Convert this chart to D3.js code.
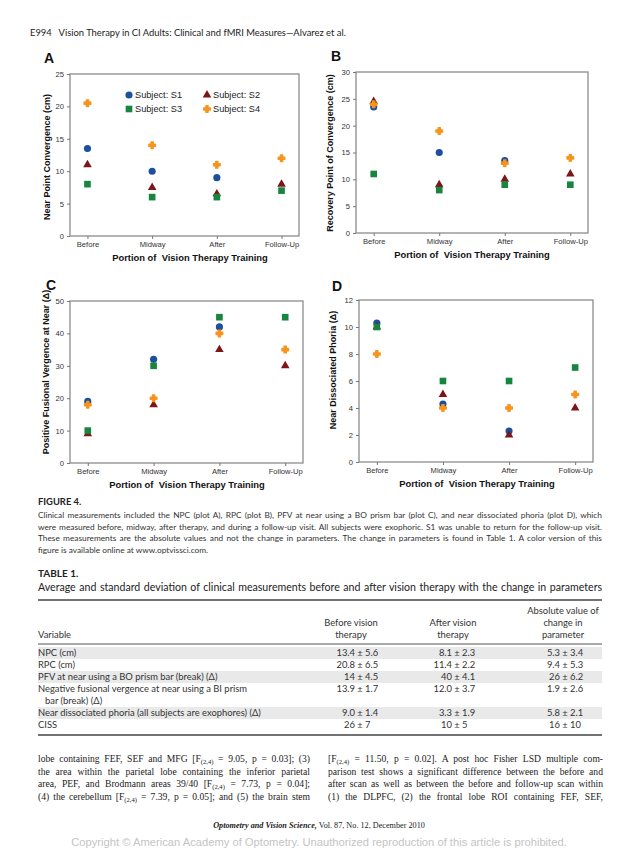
<!DOCTYPE html>
<html>
<head>
<meta charset="utf-8">
<title>Figure 4 / Table 1</title>
<script src="https://cdn.jsdelivr.net/npm/d3@7"></script>
<style>
  body {margin:0; background:#fff;}
</style>
</head>
<body>
<script>
// ---- chart data ----
var periods = ["Before", "Midway", "After", "Follow-Up"];
var subjects = ["Subject: S1", "Subject: S2", "Subject: S3", "Subject: S4"];

// null = S1 did not come back for follow-up
var npcS1 = [13.5, 10, 9, null];
var npcS2 = [11, 7.5, 6.5, 8];
var npcS3 = [8, 6, 6, 7];
var npcS4 = [20.5, 14, 11, 12];

var rpcS1 = [23.5, 15, 13.5, null];
var rpcS2 = [24.5, 9, 10, 11];
var rpcS3 = [11, 8, 9, 9];
var rpcS4 = [24, 19, 13, 14];

var pfvS1 = [19, 32, 42, null];
var pfvS2 = [9, 18, 35, 30];
var pfvS3 = [10, 30, 45, 45];
var pfvS4 = [18, 20, 40, 35];

var phoriaS1 = [10.3, 4.3, 2.3, null];
var phoriaS2 = [10, 5, 2, 4];
var phoriaS3 = [10, 6, 6, 7];
var phoriaS4 = [8, 4, 4, 5];

var npcTicks = [0, 5, 10, 15, 20, 25];
var rpcTicks = [0, 5, 10, 15, 20, 25, 30];
var pfvTicks = [0, 10, 20, 30, 40, 50];
var phoriaTicks = [0, 2, 4, 6, 8, 10, 12];

// ---- table data ----
var tableVars = ["NPC (cm)", "RPC (cm)", "PFV at near using a BO prism bar (break) (\u0394)",
  "Negative fusional vergence at near using a BI prism|bar (break) (\u0394)",
  "Near dissociated phoria (all subjects are exophores) (\u0394)", "CISS"];
var tableBefore = ["13.4 \u00b1 5.6", "20.8 \u00b1 6.5", "14 \u00b1 4.5", "13.9 \u00b1 1.7", "9.0 \u00b1 1.4", "26 \u00b1 7"];
var tableAfter = ["8.1 \u00b1 2.3", "11.4 \u00b1 2.2", "40 \u00b1 4.1", "12.0 \u00b1 3.7", "3.3 \u00b1 1.9", "10 \u00b1 5"];
var tableChange = ["5.3 \u00b1 3.4", "9.4 \u00b1 5.3", "26 \u00b1 6.2", "1.9 \u00b1 2.6", "5.8 \u00b1 2.1", "16 \u00b1 10"];

var W = 638, H = 854;
var sans = "Lato, 'Open Sans', sans-serif";
var serif = "'Liberation Serif', 'DejaVu Serif', serif";
var arial = "'Liberation Sans', Arial, sans-serif";

var svg = d3.select("body").append("svg")
  .attr("width", W).attr("height", H)
  .style("font-family", arial);

var symbols = [d3.symbolCircle, d3.symbolTriangle, d3.symbolSquare, d3.symbolCross];
var colors = ["#1c4f9c", "#7e1518", "#17853f", "#f7941d"];
var sizes = [40, 32, 44, 24];

// stretch word gaps so a line fills the column
function justify(t, width) {
  var n = t.node();
  var nat = n.getComputedTextLength();
  var gaps = (n.textContent.match(/ /g) || []).length;
  if (gaps) t.attr("word-spacing", ((width - nat) / gaps).toFixed(2));
}

// running header
svg.append("text").attr("x", 30).attr("y", 36)
  .style("font-family", sans).style("font-size", "9.4px").attr("fill", "#222")
  .attr("xml:space", "preserve")
  .text("E994   Vision Therapy in CI Adults: Clinical and fMRI Measures\u2014Alvarez et al.");

var panels = [
  {letter: "A", lx: 44, ly: 63, x0: 70, x1: 299, y0: 74, y1: 236, max: 25, ticks: npcTicks,
   title: "Near Point Convergence (cm)", tx: 50, ty: 157, xt: 190,
   series: [npcS1, npcS2, npcS3, npcS4], legend: true},
  {letter: "B", lx: 331, ly: 61, x0: 356, x1: 588, y0: 72, y1: 233, max: 30, ticks: rpcTicks,
   title: "Recovery Point of Convergence (cm)", tx: 333, ty: 153, xt: 472,
   series: [rpcS1, rpcS2, rpcS3, rpcS4]},
  {letter: "C", lx: 46, ly: 290, x0: 70, x1: 303, y0: 301, y1: 463, max: 50, ticks: pfvTicks,
   title: "Positive Fusional Vergence at Near (\u0394)", tx: 49, ty: 372, xt: 187,
   series: [pfvS1, pfvS2, pfvS3, pfvS4]},
  {letter: "D", lx: 332, ly: 291, x0: 359, x1: 593, y0: 300, y1: 462, max: 12, ticks: phoriaTicks,
   title: "Near Dissociated Phoria (\u0394)", tx: 336, ty: 370, xt: 477,
   series: [phoriaS1, phoriaS2, phoriaS3, phoriaS4]}
];

panels.forEach(function (p) {
  var g = svg.append("g");
  var x = d3.scalePoint().domain(periods).range([p.x0, p.x1]).padding(0.27);
  var y = d3.scaleLinear().domain([0, p.max]).range([p.y1, p.y0]);

  g.append("rect")
    .attr("x", p.x0).attr("y", p.y0)
    .attr("width", p.x1 - p.x0).attr("height", p.y1 - p.y0)
    .attr("fill", "none").attr("stroke", "#8c8c8c").attr("stroke-width", 1.3);

  var ya = g.append("g").attr("transform", "translate(" + p.x0 + ",0)")
    .call(d3.axisLeft(y).tickValues(p.ticks).tickSize(3).tickPadding(3));
  var xa = g.append("g").attr("transform", "translate(0," + p.y1 + ")")
    .call(d3.axisBottom(x).tickSize(3).tickPadding(3));
  [ya, xa].forEach(function (a) {
    a.select(".domain").remove();
    a.selectAll("line").attr("stroke", "#777");
    a.selectAll("text").attr("fill", "#333").style("font-family", arial).style("font-size", "7.6px");
  });

  // axis titles
  g.append("text")
    .attr("transform", "translate(" + p.tx + "," + p.ty + ") rotate(-90)")
    .attr("text-anchor", "middle")
    .style("font-weight", "bold").style("font-size", "9px").attr("fill", "#111")
    .text(p.title);
  g.append("text")
    .attr("x", p.xt).attr("y", p.y1 + 25)
    .attr("text-anchor", "middle").attr("xml:space", "preserve")
    .style("font-weight", "bold").style("font-size", "9.4px").attr("fill", "#111")
    .text("Portion of  Vision Therapy Training");
  g.append("text")
    .attr("x", p.lx).attr("y", p.ly)
    .style("font-weight", "bold").style("font-size", "14px").attr("fill", "#111")
    .text(p.letter);

  // markers
  p.series.forEach(function (vals, i) {
    var pts = vals.map(function (v, j) { return {cat: periods[j], v: v}; })
      .filter(function (d) { return d.v !== null; });
    g.selectAll(".s" + i).data(pts).enter().append("path")
      .attr("class", "s" + i)
      .attr("d", d3.symbol().type(symbols[i]).size(sizes[i]))
      .attr("transform", function (d) { return "translate(" + x(d.cat) + "," + y(d.v) + ")"; })
      .attr("fill", colors[i])
      .attr("stroke", i === 3 ? colors[i] : "none")
      .attr("stroke-width", 1.4).attr("stroke-linejoin", "round");
  });

  if (p.legend) {
    var lg = g.append("g");
    var cols = [129, 207], rows = [95, 109];
    subjects.forEach(function (s, i) {
      var lx = cols[i % 2], ly = rows[Math.floor(i / 2)];
      lg.append("path")
        .attr("d", d3.symbol().type(symbols[i]).size(sizes[i]))
        .attr("transform", "translate(" + lx + "," + ly + ")")
        .attr("fill", colors[i])
        .attr("stroke", i === 3 ? colors[i] : "none")
        .attr("stroke-width", 1.4).attr("stroke-linejoin", "round");
      lg.append("text").attr("x", lx + 6).attr("y", ly + 3.3)
        .style("font-size", "9.2px").attr("fill", "#222").text(s);
    });
  }
});

// ---- figure caption ----
svg.append("text").attr("x", 38).attr("y", 505)
  .style("font-family", sans).style("font-weight", "bold").style("font-size", "9.4px").attr("fill", "#222")
  .text("FIGURE 4.");

var captionLines = [
  "Clinical measurements included the NPC (plot A), RPC (plot B), PFV at near using a BO prism bar (plot C), and near dissociated phoria (plot D), which",
  "were measured before, midway, after therapy, and during a follow-up visit. All subjects were exophoric. S1 was unable to return for the follow-up visit.",
  "These measurements are the absolute values and not the change in parameters. The change in parameters is found in Table 1. A color version of this",
  "figure is available online at www.optvissci.com."
];
captionLines.forEach(function (t, i) {
  var tx = svg.append("text").attr("x", 38).attr("y", 518 + i * 11.6)
    .style("font-family", sans).style("font-size", "8.3px").attr("fill", "#333").text(t);
  if (i < captionLines.length - 1) justify(tx, 564);
});

// ---- table ----
svg.append("text").attr("x", 38).attr("y", 577)
  .style("font-family", sans).style("font-weight", "bold").style("font-size", "10px").attr("fill", "#222")
  .text("TABLE 1.");
var ttl = svg.append("text").attr("x", 38).attr("y", 591)
  .style("font-family", sans).style("font-size", "10.6px").attr("fill", "#222")
  .text("Average and standard deviation of clinical measurements before and after vision therapy with the change in parameters");
justify(ttl, 564);

var tl = 38, tr = 602;
var colCenters = [351, 453, 563];
var pmX = [360, 457, 565];

var rowLines = tableVars.map(function (v) { return v.split("|"); });
var rowTop = [];
var yCur = 656;
rowLines.forEach(function (l) { rowTop.push(yCur); yCur += 12 * l.length; });

// shaded rows
rowLines.forEach(function (l, i) {
  if (i % 2 === 0) {
    svg.append("rect").attr("x", tl).attr("y", rowTop[i] - 9)
      .attr("width", tr - tl).attr("height", 12 * l.length)
      .attr("fill", "#e9e9e9");
  }
});

svg.append("line").attr("x1", tl).attr("x2", tr).attr("y1", 600).attr("y2", 600)
  .attr("stroke", "#444").attr("stroke-width", 1.6);
svg.append("line").attr("x1", tl).attr("x2", tr).attr("y1", 644).attr("y2", 644)
  .attr("stroke", "#555").attr("stroke-width", 1.1);
svg.append("line").attr("x1", tl).attr("x2", tr).attr("y1", 735).attr("y2", 735)
  .attr("stroke", "#444").attr("stroke-width", 1.6);

function tableText(x, y, t, anchor) {
  return svg.append("text").attr("x", x).attr("y", y)
    .attr("text-anchor", anchor || "start")
    .style("font-family", sans).style("font-size", "9.4px")
    .attr("fill", "#333").text(t);
}
tableText(tl, 638, "Variable");
tableText(colCenters[0], 626, "Before vision", "middle");
tableText(colCenters[0], 638, "therapy", "middle");
tableText(colCenters[1], 626, "After vision", "middle");
tableText(colCenters[1], 638, "therapy", "middle");
tableText(colCenters[2], 614, "Absolute value of", "middle");
tableText(colCenters[2], 626, "change in", "middle");
tableText(colCenters[2], 638, "parameter", "middle");

var valueCols = [tableBefore, tableAfter, tableChange];
rowLines.forEach(function (l, i) {
  l.forEach(function (t, k) { tableText(tl + (k ? 7 : 0), rowTop[i] + 12 * k, t); });
  valueCols.forEach(function (col, c) {
    var parts = col[i].split(" \u00b1 ");
    tableText(pmX[c] - 5, rowTop[i], parts[0], "end");
    tableText(pmX[c], rowTop[i], "\u00b1", "middle");
    tableText(pmX[c] + 5, rowTop[i], parts[1], "start");
  });
});

// ---- body text (two columns) ----
var leftCol = [
  "lobe containing FEF, SEF and MFG [F~(2,4)~ = 9.05, p = 0.03]; (3)",
  "the area within the parietal lobe containing the inferior parietal",
  "area, PEF, and Brodmann areas 39/40 [F~(2,4)~ = 7.73, p = 0.04];",
  "(4) the cerebellum [F~(2,4)~ = 7.39, p = 0.05]; and (5) the brain stem"
];
var rightCol = [
  "[F~(2,4)~ = 11.50, p = 0.02]. A post hoc Fisher LSD multiple com-",
  "parison test shows a significant difference between the before and",
  "after scan as well as between the before and follow-up scan within",
  "(1) the DLPFC, (2) the frontal lobe ROI containing FEF, SEF,"
];
function bodyLine(x, y, width, str) {
  var t = svg.append("text").attr("x", x).attr("y", y)
    .style("font-family", serif).style("font-size", "9.6px").attr("fill", "#222");
  str.split("~").forEach(function (seg, k) {
    var ts = t.append("tspan").text(seg);
    if (k % 2 === 1) ts.attr("dy", 2).style("font-size", "6.6px");
    else if (k > 0) ts.attr("dy", -2);
  });
  justify(t, width);
}
leftCol.forEach(function (s, i) { bodyLine(38, 762 + i * 12.6, 272, s); });
rightCol.forEach(function (s, i) { bodyLine(328, 762 + i * 12.6, 275, s); });

// ---- footer ----
var foot = svg.append("text").attr("x", 319).attr("y", 828).attr("text-anchor", "middle")
  .style("font-family", serif).style("font-size", "8.2px").attr("fill", "#222");
foot.append("tspan").style("font-weight", "bold").style("font-style", "italic").text("Optometry and Vision Science,");
foot.append("tspan").text(" Vol. 87, No. 12, December 2010");

svg.append("text").attr("x", 319).attr("y", 846).attr("text-anchor", "middle")
  .style("font-family", arial).style("font-size", "11.2px").attr("fill", "#c4c4c4")
  .text("Copyright \u00a9 American Academy of Optometry. Unauthorized reproduction of this article is prohibited.");
</script>
</body>
</html>
